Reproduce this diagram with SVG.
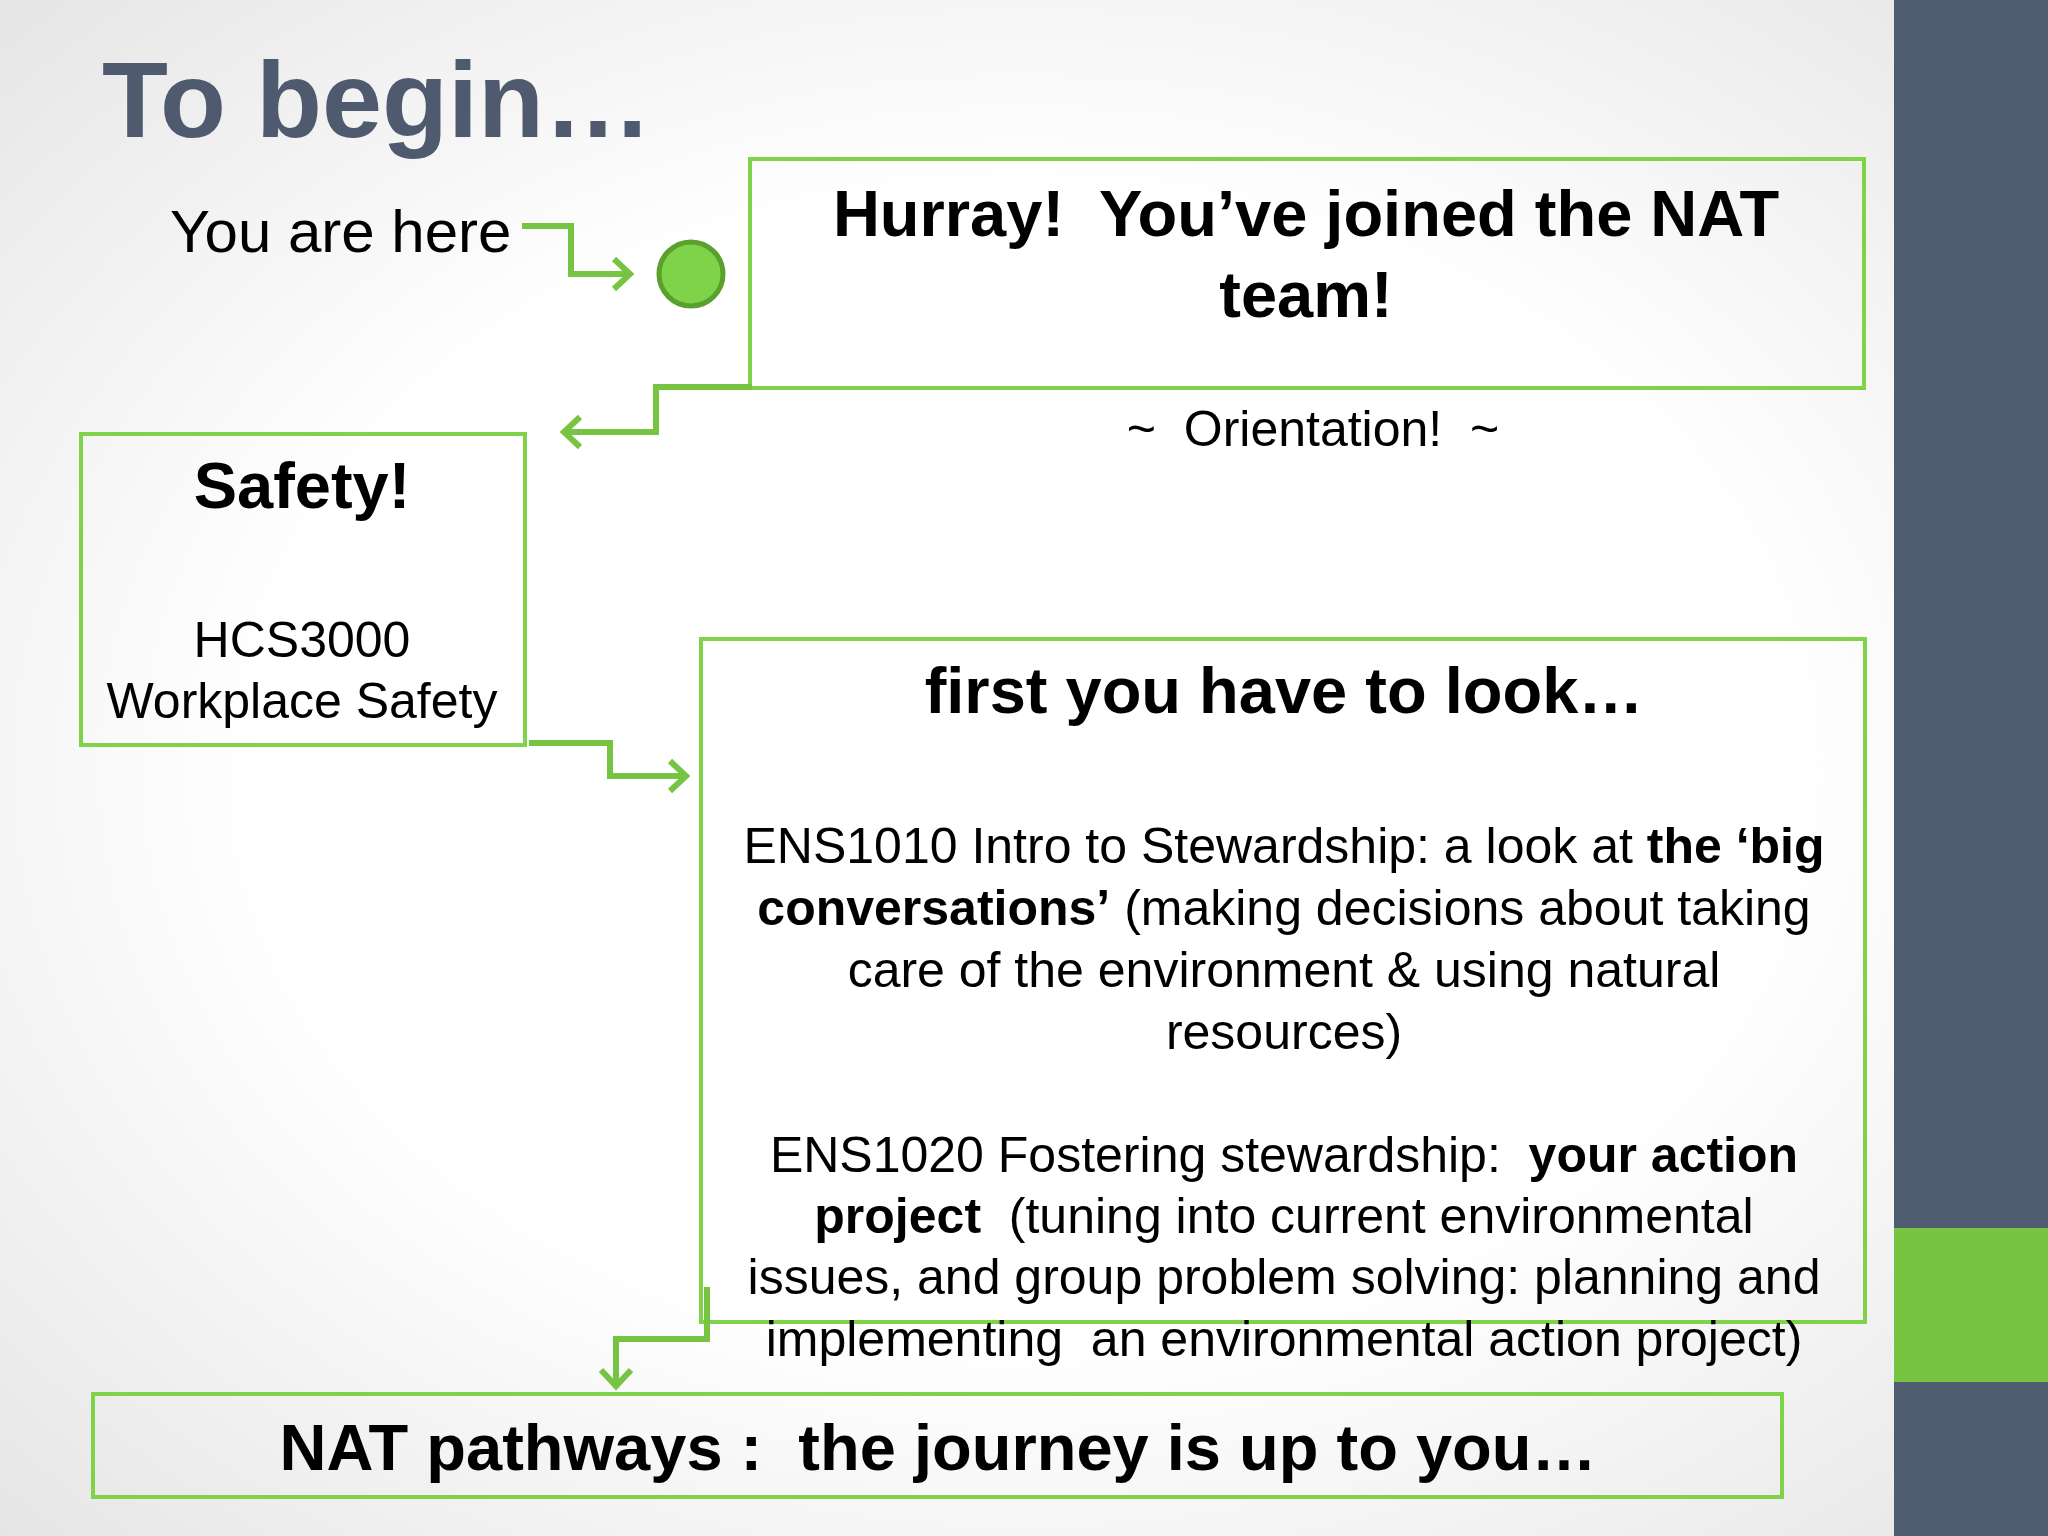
<svg xmlns="http://www.w3.org/2000/svg" width="2048" height="1536" viewBox="0 0 2048 1536">
<defs>
<radialGradient id="bg" cx="0.5" cy="0.5" r="0.75"><stop offset="0.5" stop-color="#ffffff"/><stop offset="1" stop-color="#e2e2e2"/></radialGradient>
<marker id="ah" viewBox="-20 -20 40 40" refX="0" refY="0" markerWidth="40" markerHeight="40" orient="auto" markerUnits="userSpaceOnUse"><path d="M-16,-15 L0,0 L-16,15" fill="none" stroke="#76c442" stroke-width="6"/></marker>
<style>
.box{fill:none;stroke:#7ed348;stroke-width:4}
.t{font-family:"Liberation Sans",Arial,sans-serif;fill:#000;text-anchor:middle;white-space:pre}
.b{font-weight:bold}
.c{fill:none;stroke:#76c442;stroke-width:6}
</style>
</defs>
<rect width="2048" height="1536" fill="url(#bg)"/>
<rect x="1894" y="0" width="154" height="1536" fill="#4f5b6f"/>
<rect x="1894" y="1228" width="154" height="154" fill="#76c442"/>
<text x="102" y="137" font-family="'Liberation Sans',Arial,sans-serif" font-size="108" font-weight="bold" fill="#505a6e">To begin…</text>
<text x="170" y="252" font-family="'Liberation Sans',Arial,sans-serif" font-size="60" fill="#000">You are here</text>
<g id="start"><circle cx="691" cy="274" r="32" fill="#7ed348" stroke="#5aa02c" stroke-width="5"/></g>
<g id="orientation"><rect class="box" x="750" y="159" width="1114" height="229"/>
<text class="t b" x="1306" y="236" font-size="65" xml:space="preserve">Hurray!  You’ve joined the NAT</text>
<text class="t b" x="1306" y="317" font-size="65">team!</text></g>
<text class="t" x="1313" y="446" font-size="50" xml:space="preserve">~  Orientation!  ~</text>
<g id="safety"><rect class="box" x="81" y="434" width="444" height="311"/>
<text class="t b" x="302" y="508" font-size="65">Safety!</text>
<text class="t" x="302" y="657" font-size="50">HCS3000</text>
<text class="t" x="302" y="718" font-size="50">Workplace Safety</text></g>
<g id="look"><rect class="box" x="701" y="639" width="1164" height="683"/>
<text class="t b" x="1284" y="713" font-size="65">first you have to look…</text>
<g font-size="50">
<text class="t" x="1284" y="863" xml:space="preserve">ENS1010 Intro to Stewardship: a look at <tspan class="b">the ‘big</tspan></text>
<text class="t" x="1284" y="925" xml:space="preserve"><tspan class="b">conversations’</tspan> (making decisions about taking</text>
<text class="t" x="1284" y="987">care of the environment &amp; using natural</text>
<text class="t" x="1284" y="1049">resources)</text>
<text class="t" x="1284" y="1172" xml:space="preserve">ENS1020 Fostering stewardship:  <tspan class="b">your action</tspan></text>
<text class="t" x="1284" y="1233" xml:space="preserve"><tspan class="b">project</tspan>  (tuning into current environmental</text>
<text class="t" x="1284" y="1294">issues, and group problem solving: planning and</text>
<text class="t" x="1284" y="1356" xml:space="preserve">implementing  an environmental action project)</text>
</g></g>
<g id="pathways"><rect class="box" x="93" y="1394" width="1689" height="103"/>
<text class="t b" x="938" y="1470" font-size="65" xml:space="preserve">NAT pathways :  the journey is up to you…</text></g>
<g id="connectors">
<path class="c" d="M522,226 H571 V274 H630" marker-end="url(#ah)"/>
<path class="c" d="M752,387 H656 V432 H564" marker-end="url(#ah)"/>
<path class="c" d="M529,743 H610 V776 H686" marker-end="url(#ah)"/>
<path class="c" d="M707,1287 V1339 H616 V1386" marker-end="url(#ah)"/>
</g>
</svg>
